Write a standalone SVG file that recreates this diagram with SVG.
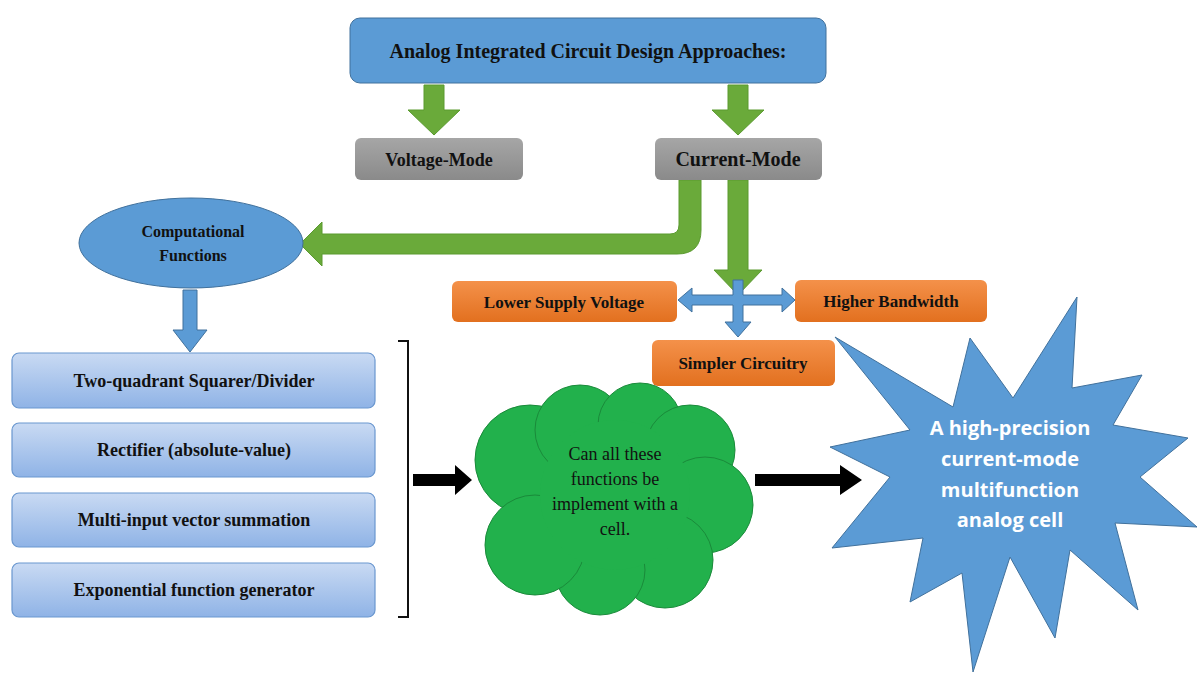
<svg xmlns="http://www.w3.org/2000/svg" width="1200" height="688" viewBox="0 0 1200 688">
<defs>
<linearGradient id="lb" x1="0" y1="0" x2="0" y2="1"><stop offset="0" stop-color="#c9daf3"/><stop offset="1" stop-color="#8fb3e6"/></linearGradient>
<linearGradient id="gr" x1="0" y1="0" x2="0" y2="1"><stop offset="0" stop-color="#a6a6a6"/><stop offset="1" stop-color="#8a8a8a"/></linearGradient>
<linearGradient id="or" x1="0" y1="0" x2="0" y2="1"><stop offset="0" stop-color="#f4914a"/><stop offset="1" stop-color="#e2701f"/></linearGradient>
</defs>
<style>
.t{font-family:"Liberation Serif",serif;font-weight:bold;fill:#111;text-anchor:middle}
.ga{fill:#6aaa3a;stroke:#5a9a2f;stroke-width:1}
.ba{fill:#5b9bd5;stroke:#41719c;stroke-width:1}
.lb{fill:url(#lb);stroke:#6a97cf;stroke-width:1.2}
</style>
<rect width="1200" height="688" fill="#fff"/>
<g id="connectors">
<polygon class="ga" points="424,85 444,85 444,110 460,110 434,135 408,110 424,110"/>
<polygon class="ga" points="728,85 748,85 748,110 764,110 738,135 712,110 728,110"/>
<path class="ga" d="M679,180 L701,180 L701,230 Q701,254 677,254 L322,254 L322,266 L300,244 L322,222 L322,234 L670,234 Q679,234 679,225 Z"/>
<polygon class="ga" points="728,180 748,180 748,270 762,270 738,295 714,270 728,270"/>
<polygon class="ba" points="678,300 692,288 692,295 733,295 733,280 743,280 743,295 782,295 782,288 795,300 782,312 782,305 743,305 743,322 751,322 738,337 725,322 733,322 733,305 692,305 692,312"/>
<polygon class="ba" points="183,290 197,290 197,330 207,330 190,352 173,330 183,330"/>
<polyline points="398,341 408,341 408,617 398,617" fill="none" stroke="#111" stroke-width="2"/>
<polygon points="413,474 455,474 455,465 472,480 455,495 455,486 413,486" fill="#000"/>
<polygon points="755,474 840,474 840,465 862,480 840,495 840,486 755,486" fill="#000"/>
</g>
<g id="top"><rect x="350" y="18" width="476" height="65" rx="10" fill="#5b9bd5" stroke="#41719c"/><text class="t" x="588" y="58" font-size="20">Analog Integrated Circuit Design Approaches:</text></g>
<g id="voltage"><rect x="355" y="138" width="168" height="42" rx="6" fill="url(#gr)"/><text class="t" x="439" y="166" font-size="18">Voltage-Mode</text></g>
<g id="current"><rect x="655" y="138" width="167" height="42" rx="6" fill="url(#gr)"/><text class="t" x="738" y="166" font-size="20">Current-Mode</text></g>
<g id="comp"><ellipse cx="191" cy="243" rx="112" ry="45" fill="#5b9bd5" stroke="#41719c"/><text class="t" x="193" y="237" font-size="16">Computational</text><text class="t" x="193" y="261" font-size="16">Functions</text></g>
<g id="lsv"><rect x="452" y="281" width="225" height="41" rx="6" fill="url(#or)"/><text class="t" x="564" y="308" font-size="17">Lower Supply Voltage</text></g>
<g id="hb"><rect x="795" y="280" width="192" height="42" rx="6" fill="url(#or)"/><text class="t" x="891" y="307" font-size="17">Higher Bandwidth</text></g>
<g id="sc"><rect x="652" y="340" width="183" height="46" rx="6" fill="url(#or)"/><text class="t" x="743" y="369" font-size="17">Simpler Circuitry</text></g>
<g id="f1"><rect class="lb" x="12" y="353" width="363" height="55" rx="7"/><text class="t" x="194" y="387" font-size="18">Two-quadrant Squarer/Divider</text></g>
<g id="f2"><rect class="lb" x="12" y="423" width="363" height="54" rx="7"/><text class="t" x="194" y="456" font-size="18">Rectifier (absolute-value)</text></g>
<g id="f3"><rect class="lb" x="12" y="493" width="363" height="54" rx="7"/><text class="t" x="194" y="526" font-size="18">Multi-input vector summation</text></g>
<g id="f4"><rect class="lb" x="12" y="563" width="363" height="54" rx="7"/><text class="t" x="194" y="596" font-size="18">Exponential function generator</text></g>
<g id="cloud" fill="#22b14c" stroke="#1a8a3a" stroke-width="1">
<circle cx="530" cy="460" r="55"/><circle cx="580" cy="430" r="45"/><circle cx="640" cy="425" r="42"/><circle cx="690" cy="450" r="45"/><circle cx="705" cy="505" r="48"/><circle cx="665" cy="560" r="48"/><circle cx="600" cy="570" r="45"/><circle cx="535" cy="545" r="50"/><circle cx="615" cy="495" r="75" stroke="none"/>
<text x="615" y="460" font-family="Liberation Serif,serif" font-size="18" fill="#111" stroke="none" text-anchor="middle">Can all these</text>
<text x="615" y="485" font-family="Liberation Serif,serif" font-size="18" fill="#111" stroke="none" text-anchor="middle">functions be</text>
<text x="615" y="510" font-family="Liberation Serif,serif" font-size="18" fill="#111" stroke="none" text-anchor="middle">implement with a</text>
<text x="615" y="535" font-family="Liberation Serif,serif" font-size="18" fill="#111" stroke="none" text-anchor="middle">cell.</text>
</g>
<g id="star"><polygon fill="#5b9bd5" stroke="#41719c" points="1077,297 1072,388 1142,375 1113,425 1188,438 1140,477 1197,527 1115,523 1138,610 1070,550 1055,638 1010,557 973,672 962,573 910,602 923,538 832,548 890,477 830,447 910,430 835,337 953,407 970,338 1013,398"/>
<g font-family="Open Sans,sans-serif" font-weight="bold" font-size="20" fill="#fff" text-anchor="middle"><text x="1010" y="435">A high-precision</text><text x="1010" y="466">current-mode</text><text x="1010" y="497">multifunction</text><text x="1010" y="527">analog cell</text></g></g>
</svg>
